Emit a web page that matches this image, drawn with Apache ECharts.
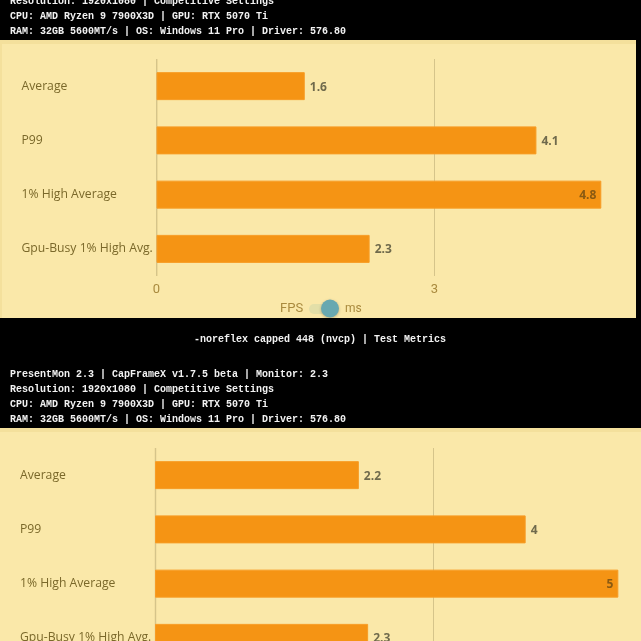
<!DOCTYPE html>
<html><head><meta charset="utf-8">
<style>html,body{margin:0;padding:0;background:#000;overflow:hidden}#c{width:641px;height:641px}</style>
<script src="https://cdn.jsdelivr.net/npm/echarts@6/dist/echarts.min.js"></script>
</head><body><div id="c"></div>
<script>
const categories = ['Average', 'P99', '1% High Average', 'Gpu-Busy 1% High Avg.'];
const valuesTop = [1.6, 4.1, 4.8, 2.3];
const valuesBottom = [2.2, 4, 5, 2.3];
const labelsTop = ['1.6', '4.1', '4.8', '2.3'];
const labelsBottom = ['2.2', '4', '5', '2.3'];
const insideFrom = 4.5;
const axisTicks = [0, 3];
const topLines = [
  ['Resolution: 1920x1080 | Competitive Settings', 1],
  ['CPU: AMD Ryzen 9 7900X3D | GPU: RTX 5070 Ti', 16],
  ['RAM: 32GB 5600MT/s | OS: Windows 11 Pro | Driver: 576.80', 31]
];
const bottomTitle = '-noreflex capped 448 (nvcp) | Test Metrics';
const bottomLines = [
  ['PresentMon 2.3 | CapFrameX v1.7.5 beta | Monitor: 2.3', 374],
  ['Resolution: 1920x1080 | Competitive Settings', 389],
  ['CPU: AMD Ryzen 9 7900X3D | GPU: RTX 5070 Ti', 404],
  ['RAM: 32GB 5600MT/s | OS: Windows 11 Pro | Driver: 576.80', 419]
];

const mono = {fontFamily: '"Liberation Mono"', fontWeight: 'bold', fontSize: 10, fill: '#f2f2f2', textVerticalAlign: 'top'};
const monoText = ([t, y]) => ({type: 'text', z: 100, left: 10, top: y - 5, style: {...mono, text: t}});

function seriesData(values, labels) {
  return values.map((v, i) => {
    const inside = v >= insideFrom;
    return {
      value: v,
      label: {
        show: true,
        formatter: labels[i],
        position: inside ? 'insideRight' : 'right',
        distance: 5,
        offset: [0, 1],
        color: inside ? '#8a5a12' : '#6f6a4c',
        fontFamily: '"Open Sans"',
        fontWeight: 'bold',
        fontSize: 12
      }
    };
  });
}
const yAxisOf = (gi, margin) => ({
  type: 'category', gridIndex: gi, inverse: true, data: categories,
  axisTick: {show: false},
  axisLine: {show: false},
  axisLabel: {align: 'left', verticalAlignMaxLines: null, margin, color: '#7a682a', fontFamily: '"Open Sans"', fontSize: 12.2, hideOverlap: false, interval: 0, lineHeight: 16, padding: [3, 0, 0, 0]}
});
const xAxisOf = gi => ({
  type: 'value', gridIndex: gi, min: 0, max: 6, interval: 3,
  axisLine: {show: false}, axisTick: {show: false},
  splitLine: {show: true, lineStyle: {color: '#d5c48a', width: 1}},
  axisLabel: {color: '#a98a3e', fontFamily: 'Roboto', fontSize: 13, margin: 7,
    formatter: v => axisTicks.includes(v) ? String(v) : ''}
});
const bar = (i, values, labels) => ({
  type: 'bar', xAxisIndex: i, yAxisIndex: i, barWidth: 28, z: 3,
  itemStyle: {color: '#f59414', borderColor: '#f79c25', borderWidth: 1},
  data: seriesData(values, labels), silent: true, animation: false
});

const chart = echarts.init(document.getElementById('c'), null, {renderer: 'canvas'});
chart.setOption({
  animation: false,
  backgroundColor: '#000000',
  grid: [
    {left: 156.5, top: 59, width: 556, height: 217, containLabel: false, outerBoundsMode: 'none'},
    {left: 155, top: 448, width: 556, height: 217, containLabel: false, outerBoundsMode: 'none'}
  ],
  xAxis: [xAxisOf(0), xAxisOf(1)],
  yAxis: [yAxisOf(0, 135), yAxisOf(1, 135)],
  series: [bar(0, valuesTop, labelsTop), bar(1, valuesBottom, labelsBottom)],
  graphic: [
    {type: 'rect', z: -10, shape: {x: 0, y: 40, width: 636, height: 278}, style: {fill: '#f4e09c'}},
    {type: 'rect', z: -9, shape: {x: 2, y: 44, width: 634, height: 274}, style: {fill: '#fae8a9'}},
    {type: 'rect', z: -10, shape: {x: 0, y: 428, width: 641, height: 213}, style: {fill: '#f4e09c'}},
    {type: 'rect', z: -9, shape: {x: 0, y: 432, width: 641, height: 209}, style: {fill: '#fae8a9'}},
    {type: 'rect', z: -5, shape: {x: 156, y: 59, width: 2, height: 217}, style: {fill: '#ecd999'}},
    {type: 'rect', z: -5, shape: {x: 154.5, y: 448, width: 2, height: 193}, style: {fill: '#ecd999'}},
    ...topLines.map(monoText),
    {type: 'text', z: 100, left: 194, top: 334, style: {...mono, text: bottomTitle}},
    ...bottomLines.map(monoText),
    {type: 'text', z: 100, left: 280, top: 302, style: {text: 'FPS', fill: '#a98a3e', font: '13px Roboto', textVerticalAlign: 'top'}},
    {type: 'text', z: 100, left: 345, top: 303, style: {text: 'ms', fill: '#a98a3e', font: '12px Roboto', textVerticalAlign: 'top'}},
    {type: 'rect', z: 90, shape: {x: 309, y: 304, width: 29, height: 10, r: 5}, style: {fill: '#e3dfa8'}},
    {type: 'circle', z: 91, shape: {cx: 330, cy: 308.5, r: 9}, style: {fill: '#68a8b0', shadowBlur: 3, shadowColor: 'rgba(0,0,0,0.25)', shadowOffsetY: 1}}
  ]
});
</script></body></html>
